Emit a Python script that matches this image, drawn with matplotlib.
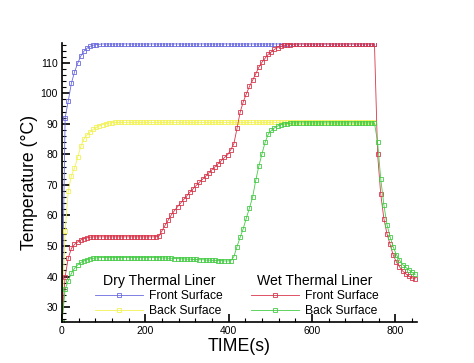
import matplotlib
matplotlib.use('Agg')
import matplotlib.pyplot as plt
from matplotlib.ticker import MultipleLocator

plt.rcParams['font.family'] = ['Liberation Sans', 'DejaVu Sans']

# sampling times (s)
time = [0, 7.5, 15, 22.5, 30, 37.5, 45, 52.5, 60, 67.5,
        75, 82.5, 90, 97.5, 105, 112.5, 120, 127.5, 135, 142.5,
        150, 157.5, 165, 172.5, 180, 187.5, 195, 202.5, 210, 217.5,
        225, 232.5, 240, 247.5, 255, 262.5, 270, 277.5, 285, 292.5,
        300, 307.5, 315, 322.5, 330, 337.5, 345, 352.5, 360, 367.5,
        375, 382.5, 390, 397.5, 405, 412.5, 420, 427.5, 435, 442.5,
        450, 457.5, 465, 472.5, 480, 487.5, 495, 502.5, 510, 517.5,
        525, 532.5, 540, 547.5, 555, 562.5, 570, 577.5, 585, 592.5,
        600, 607.5, 615, 622.5, 630, 637.5, 645, 652.5, 660, 667.5,
        675, 682.5, 690, 697.5, 705, 712.5, 720, 727.5, 735, 742.5,
        750, 757.5, 765, 772.5, 780, 787.5, 795, 802.5, 810, 817.5,
        825, 832.5, 840, 847.5]

# Dry thermal liner (0 - 750 s)
dry_front = [25, 92, 97.5, 103.3, 107, 109.8, 112.2, 113.8, 114.8, 115.4,
             115.8, 116.0, 116.1, 116.2, 116.2, 116.2, 116.2, 116.2, 116.2, 116.2,
             116.2, 116.2, 116.2, 116.2, 116.2, 116.2, 116.2, 116.2, 116.2, 116.2,
             116.2, 116.2, 116.2, 116.2, 116.2, 116.2, 116.2, 116.2, 116.2, 116.2,
             116.2, 116.2, 116.2, 116.2, 116.2, 116.2, 116.2, 116.2, 116.2, 116.2,
             116.2, 116.2, 116.2, 116.2, 116.2, 116.2, 116.2, 116.2, 116.2, 116.2,
             116.2, 116.2, 116.2, 116.2, 116.2, 116.2, 116.2, 116.2, 116.2, 116.2,
             116.2, 116.2, 116.2, 116.2, 116.2, 116.2, 116.2, 116.2, 116.2, 116.2,
             116.2, 116.2, 116.2, 116.2, 116.2, 116.2, 116.2, 116.2, 116.2, 116.2,
             116.2, 116.2, 116.2, 116.2, 116.2, 116.2, 116.2, 116.2, 116.2, 116.2,
             116.2]
dry_back = [25, 55, 68, 73, 75.5, 79, 82.6, 85, 86.4, 87.4,
            88.2, 88.9, 89.4, 89.8, 90.1, 90.3, 90.4, 90.5, 90.5, 90.5,
            90.5, 90.5, 90.5, 90.5, 90.5, 90.5, 90.5, 90.5, 90.5, 90.5,
            90.5, 90.5, 90.5, 90.5, 90.5, 90.5, 90.5, 90.5, 90.5, 90.5,
            90.5, 90.5, 90.5, 90.5, 90.5, 90.5, 90.5, 90.5, 90.5, 90.5,
            90.5, 90.5, 90.5, 90.5, 90.5, 90.5, 90.5, 90.5, 90.5, 90.5,
            90.5, 90.5, 90.5, 90.5, 90.5, 90.5, 90.5, 90.5, 90.5, 90.5,
            90.5, 90.5, 90.5, 90.5, 90.5, 90.5, 90.5, 90.5, 90.5, 90.5,
            90.5, 90.5, 90.5, 90.5, 90.5, 90.5, 90.5, 90.5, 90.5, 90.5,
            90.5, 90.5, 90.5, 90.5, 90.5, 90.5, 90.5, 90.5, 90.5, 90.5,
            90.5]

# Wet thermal liner (0 - 847.5 s)
wet_front = [25, 40, 46, 49.2, 50.5, 51.3, 52.0, 52.4, 52.7, 52.9,
             53.0, 53.0, 53.0, 53.0, 53.0, 53.0, 53.0, 53.0, 53.0, 53.0,
             53.0, 53.0, 53.0, 53.0, 53.0, 53.0, 53.0, 53.0, 53.0, 53.0,
             53.0, 53.2, 55.0, 56.8, 58.5, 60.2, 61.6, 62.9, 64.1, 65.3,
             66.5, 67.7, 68.8, 69.9, 70.9, 71.9, 72.9, 74.0, 75.0, 76.0,
             77.0, 78.0, 79.0, 79.9, 81.5, 83.5, 88.5, 93.8, 97.2, 99.9,
             102.3, 104.3, 106.4, 108.6, 110.2, 111.5, 112.8, 113.6, 114.4, 115.0,
             115.4, 115.7, 115.9, 116.0, 116.1, 116.2, 116.2, 116.2, 116.2, 116.2,
             116.2, 116.2, 116.2, 116.2, 116.2, 116.2, 116.2, 116.2, 116.2, 116.2,
             116.2, 116.2, 116.2, 116.2, 116.2, 116.2, 116.2, 116.2, 116.2, 116.2,
             116.2, 80, 67, 59, 54, 50.5, 47, 44.8, 43.2, 41.8,
             40.9, 40.1, 39.6, 39.3]
wet_back = [25, 35.8, 38.6, 41.0, 42.7, 43.8, 44.6, 45.1, 45.5, 45.8,
            46.0, 46.1, 46.2, 46.2, 46.2, 46.2, 46.2, 46.2, 46.2, 46.2,
            46.2, 46.2, 46.2, 46.2, 46.2, 46.2, 46.2, 46.2, 46.2, 46.2,
            46.2, 46.2, 46.1, 46.1, 46.0, 46.0, 45.9, 45.9, 45.8, 45.8,
            45.7, 45.7, 45.6, 45.6, 45.5, 45.5, 45.4, 45.4, 45.3, 45.3,
            45.2, 45.2, 45.1, 45.1, 45.2, 46.5, 49.8, 52.8, 55.7, 59.2,
            62.5, 66.0, 71.5, 76.2, 80.2, 84.0, 86.6, 87.9, 88.7, 89.3,
            89.7, 90.0, 90.1, 90.2, 90.3, 90.3, 90.3, 90.3, 90.3, 90.3,
            90.3, 90.3, 90.3, 90.3, 90.3, 90.3, 90.3, 90.3, 90.3, 90.3,
            90.3, 90.3, 90.3, 90.3, 90.3, 90.3, 90.3, 90.3, 90.3, 90.3,
            90.3, 84, 72, 63.5, 57, 53, 49.7, 47.2, 45.4, 43.9,
            43.0, 42.2, 41.4, 40.7]

t_dry = time[:len(dry_front)]

fig = plt.figure(figsize=(4.74, 3.63), dpi=100)
ax = fig.add_axes([0.1308, 0.1121, 0.7489, 0.7694])

style = dict(marker='s', markersize=3.2, markerfacecolor='none',
             markeredgewidth=0.6, linewidth=0.6)

h_df, = ax.plot(t_dry, dry_front, color='#6a6ae0', label='Front Surface', **style)
h_db, = ax.plot(t_dry, dry_back, color='#f2f255', label='Back Surface', **style)
h_wf, = ax.plot(time, wet_front, color='#d8354a', label='Front Surface', **style)
h_wb, = ax.plot(time, wet_back, color='#45cc45', label='Back Surface', **style)

ax.set_xlim(0, 852)
ax.set_ylim(25, 116.5)
ax.xaxis.set_major_locator(MultipleLocator(200))
ax.xaxis.set_minor_locator(MultipleLocator(40))
ax.yaxis.set_major_locator(MultipleLocator(10))
ax.yaxis.set_minor_locator(MultipleLocator(2))
ax.tick_params(which='major', direction='in', length=6, width=1.2, labelsize=7.5, pad=3)
ax.tick_params(which='minor', direction='in', length=3, width=0.8)

for s in ['top', 'right']:
    ax.spines[s].set_visible(False)
for s in ['left', 'bottom']:
    ax.spines[s].set_linewidth(1.2)

ax.set_xlabel('TIME(s)', fontsize=12.7)
ax.set_ylabel('Temperature (°C)', fontsize=12.7)
ax.xaxis.set_label_coords(0.5, -0.055)
ax.yaxis.set_label_coords(-0.068, 0.5)

leg_kw = dict(loc='upper left', frameon=False, fontsize=8.7, title_fontsize=10.1,
              borderpad=0, borderaxespad=0, handlelength=4, handletextpad=0.5,
              labelspacing=0.2)
fig.legend(handles=[h_df, h_db], title='Dry Thermal Liner',
           bbox_to_anchor=(0.2004, 0.2452), **leg_kw)
fig.legend(handles=[h_wf, h_wb], title='Wet Thermal Liner',
           bbox_to_anchor=(0.5295, 0.2452), **leg_kw)

fig.savefig('out.png', dpi=100)
